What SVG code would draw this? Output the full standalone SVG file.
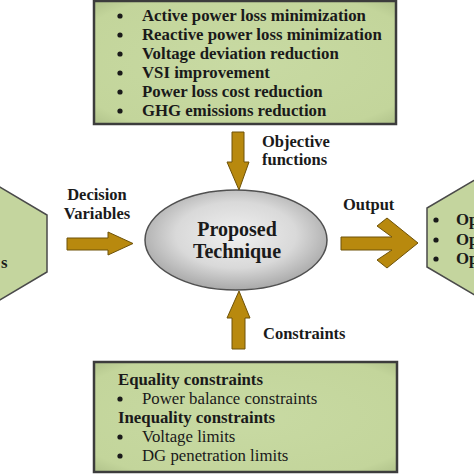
<svg xmlns="http://www.w3.org/2000/svg" width="474" height="474" viewBox="0 0 474 474">
  <defs>
    <radialGradient id="ellGrad" cx="50%" cy="45%" r="55%">
      <stop offset="0%" stop-color="#f0f0f0"/>
      <stop offset="60%" stop-color="#d9d9d9"/>
      <stop offset="100%" stop-color="#a9a9a9"/>
    </radialGradient>
    <radialGradient id="boxGrad" cx="50%" cy="50%" r="75%">
      <stop offset="0%" stop-color="#c8daa3"/>
      <stop offset="80%" stop-color="#c3d59b"/>
      <stop offset="100%" stop-color="#a9bb84"/>
    </radialGradient>
  </defs>
  <style>
    .box { fill: url(#boxGrad); stroke: #3c3c3c; stroke-width: 2.5; }
    .hex { fill: #c4d59e; stroke: #4a4a4a; stroke-width: 1.5; }
    .arrow { fill: #b8890e; stroke: #6e5208; stroke-width: 1; }
    .b { font-family: "Liberation Serif", "Times New Roman", serif; font-weight: bold; font-size: 16.8px; fill: #1a1a1a; }
    .r { font-family: "Liberation Serif", "Times New Roman", serif; font-size: 16.8px; fill: #1a1a1a; }
    .lbl { font-family: "Liberation Serif", "Times New Roman", serif; font-weight: bold; font-size: 16.5px; fill: #1a1a1a; }
    .big { font-family: "Liberation Serif", "Times New Roman", serif; font-weight: bold; font-size: 20px; fill: #1a1a1a; }
    .dot { fill: #1a1a1a; }
  </style>

  <g id="objectives">
    <rect class="box" x="94" y="1" width="302" height="123"/>
    <circle class="dot" cx="120" cy="16" r="2.6"/>
    <circle class="dot" cx="120" cy="35" r="2.6"/>
    <circle class="dot" cx="120" cy="54" r="2.6"/>
    <circle class="dot" cx="120" cy="73" r="2.6"/>
    <circle class="dot" cx="120" cy="92" r="2.6"/>
    <circle class="dot" cx="120" cy="111" r="2.6"/>
    <text class="b" x="142" y="21">Active power loss minimization</text>
    <text class="b" x="142" y="40">Reactive power loss minimization</text>
    <text class="b" x="142" y="59">Voltage deviation reduction</text>
    <text class="b" x="142" y="78">VSI improvement</text>
    <text class="b" x="142" y="97">Power loss cost reduction</text>
    <text class="b" x="142" y="116">GHG emissions reduction</text>
  </g>

  <g id="constraints">
    <rect class="box" x="94" y="362" width="303" height="110"/>
    <text class="b" x="118" y="385">Equality constraints</text>
    <circle class="dot" cx="120" cy="399" r="2.6"/>
    <text class="r" x="142" y="404">Power balance constraints</text>
    <text class="b" x="118" y="423">Inequality constraints</text>
    <circle class="dot" cx="120" cy="437" r="2.6"/>
    <text class="r" x="142" y="442">Voltage limits</text>
    <circle class="dot" cx="120" cy="456" r="2.6"/>
    <text class="r" x="142" y="461">DG penetration limits</text>
  </g>

  <g id="technique">
    <ellipse cx="236" cy="240" rx="91" ry="50" fill="url(#ellGrad)" stroke="#505050" stroke-width="1.5"/>
    <text class="big" x="237" y="236" text-anchor="middle">Proposed</text>
    <text class="big" x="237" y="258" text-anchor="middle">Technique</text>
  </g>

  <g id="inputs">
    <polygon class="hex" points="-2,186 47,215 47,272 -2,301 -51,272 -51,215"/>
    <text class="b" x="1" y="268">s</text>
  </g>

  <g id="outputs">
    <polygon class="hex" points="478,178 529,208 529,267 478,297 427,267 427,208"/>
    <circle class="dot" cx="436" cy="220" r="2.6"/>
    <circle class="dot" cx="436" cy="240" r="2.6"/>
    <circle class="dot" cx="436" cy="259" r="2.6"/>
    <text class="b" x="456" y="225">Op</text>
    <text class="b" x="456" y="245">Op</text>
    <text class="b" x="456" y="264">Op</text>
  </g>

  <g id="connectors">
    <polygon class="arrow" points="232,132 244,132 244,162 249,162 239,190 227,162 232,162"/>
    <polygon class="arrow" points="232,349 245,349 245,318 250,318 239,291 227,318 232,318"/>
    <polygon class="arrow" points="67,238 108,238 108,232 133,243.5 108,255 108,250 67,250"/>
    <polygon class="arrow" points="341,237 392,237 377,226 387,218 418,243 387,268 377,260 392,250 341,250"/>
    <text class="lbl" x="262" y="147">Objective</text>
    <text class="lbl" x="262" y="165">functions</text>
    <text class="lbl" x="97" y="200" text-anchor="middle">Decision</text>
    <text class="lbl" x="97" y="219" text-anchor="middle">Variables</text>
    <text class="lbl" x="343" y="210">Output</text>
    <text class="lbl" x="263" y="339">Constraints</text>
  </g>
</svg>
